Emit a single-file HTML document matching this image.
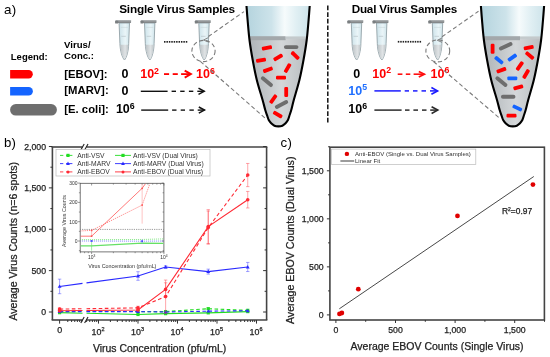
<!DOCTYPE html>
<html><head><meta charset="utf-8"><style>
html,body{margin:0;padding:0;background:#fff;}
svg{display:block;will-change:transform;}
text{font-family:"Liberation Sans",sans-serif;}
.hv{stroke:#222;stroke-width:0.25px;}
</style></head><body>
<svg width="550" height="357" viewBox="0 0 550 357">
<defs>
<linearGradient id="stb" x1="0" x2="1" y1="0" y2="0">
<stop offset="0" stop-color="#cde3ea"/><stop offset="0.6" stop-color="#eaf5f8"/><stop offset="1" stop-color="#d0e5eb"/></linearGradient>
<linearGradient id="slq" x1="0" x2="1" y1="0" y2="0">
<stop offset="0" stop-color="#bcc2c5"/><stop offset="0.6" stop-color="#dfe3e5"/><stop offset="1" stop-color="#c0c6c9"/></linearGradient>
<linearGradient id="btb" x1="0" x2="1" y1="0" y2="0">
<stop offset="0" stop-color="#b3d3dd"/><stop offset="0.4" stop-color="#cde3ea"/><stop offset="0.6" stop-color="#f6fbfc"/><stop offset="0.78" stop-color="#e0eff3"/><stop offset="1" stop-color="#cbe2e9"/></linearGradient>
<linearGradient id="blq" x1="0" x2="1" y1="0" y2="0">
<stop offset="0" stop-color="#a9afb3"/><stop offset="0.55" stop-color="#d4d7d9"/><stop offset="1" stop-color="#b4b9bc"/></linearGradient>
<linearGradient id="cap" x1="0" x2="0" y1="0" y2="1">
<stop offset="0" stop-color="#b8bcbe"/><stop offset="0.45" stop-color="#979b9d"/><stop offset="1" stop-color="#7e8284"/></linearGradient>
</defs>
<rect width="550" height="357" fill="#fff"/>
<text x="3.9" y="14.0" font-size="13.4" letter-spacing="0.5" font-family="Liberation Sans, sans-serif">a)</text>
<text x="119.2" y="13.2" font-size="11.8" letter-spacing="-0.2" font-weight="bold" font-family="Liberation Sans, sans-serif">Single Virus Samples</text>
<text x="351.7" y="13.0" font-size="11.7" letter-spacing="-0.2" font-weight="bold" font-family="Liberation Sans, sans-serif">Dual Virus Samples</text>
<text x="10.8" y="59.5" font-size="9.5" font-weight="bold" font-family="Liberation Sans, sans-serif">Legend:</text>
<text x="64.1" y="48.1" font-size="9.6" font-weight="bold" font-family="Liberation Sans, sans-serif">Virus/</text>
<text x="64.1" y="58.6" font-size="9.6" font-weight="bold" font-family="Liberation Sans, sans-serif">Conc.:</text>
<path d="M10.1 70.1 H28.6 A4.2 4.2 0 0 1 28.6 78.5 H10.1 Z" fill="#ff0000"/>
<path d="M10.1 86.9 H28.6 A4.25 4.25 0 0 1 28.6 95.4 H10.1 Z" fill="#1464ff"/>
<rect x="10.1" y="104.1" width="46.8" height="11.5" rx="5.75" fill="#6e6e6e"/>
<text x="64.3" y="77.7" font-size="11.3" font-weight="bold" font-family="Liberation Sans, sans-serif">[EBOV]:</text>
<text x="64.3" y="94.2" font-size="11.3" font-weight="bold" font-family="Liberation Sans, sans-serif">[MARV]:</text>
<text x="64.3" y="112.8" font-size="11.3" font-weight="bold" font-family="Liberation Sans, sans-serif">[E. coli]:</text>
<text x="121.6" y="78.1" font-size="12.5" fill="#000" font-weight="bold" font-family="Liberation Sans, sans-serif">0</text>
<text x="121.6" y="94.5" font-size="12.5" fill="#000" font-weight="bold" font-family="Liberation Sans, sans-serif">0</text>
<text x="115.9" y="113.4" font-size="12.5" fill="#000" font-weight="bold" font-family="Liberation Sans, sans-serif">10<tspan dy="-4.6" font-size="8.8">6</tspan></text>
<text x="140.2" y="78.1" font-size="12.5" fill="#ff0000" font-weight="bold" font-family="Liberation Sans, sans-serif">10<tspan dy="-4.6" font-size="8.8">2</tspan></text>
<line x1="164" y1="74.1" x2="169.1" y2="74.1" stroke="#ff0000" stroke-width="1.8"/><line x1="172.7" y1="74.1" x2="177.8" y2="74.1" stroke="#ff0000" stroke-width="1.8"/><line x1="181.1" y1="74.1" x2="190" y2="74.1" stroke="#ff0000" stroke-width="1.8"/><path d="M184.70 70.60 L190.90 74.1 L184.70 77.60" fill="none" stroke="#ff0000" stroke-width="1.9000000000000001" stroke-linejoin="miter" stroke-linecap="butt"/>
<text x="196.0" y="78.1" font-size="12.5" fill="#ff0000" font-weight="bold" font-family="Liberation Sans, sans-serif">10<tspan dy="-4.6" font-size="8.8">6</tspan></text>
<line x1="140.8" y1="91.3" x2="167.6" y2="91.3" stroke="#111" stroke-width="1.4"/><line x1="171.6" y1="91.3" x2="176" y2="91.3" stroke="#111" stroke-width="1.4"/><line x1="180.2" y1="91.3" x2="184.6" y2="91.3" stroke="#111" stroke-width="1.4"/><line x1="188.9" y1="91.3" x2="193.3" y2="91.3" stroke="#111" stroke-width="1.4"/><line x1="197.3" y1="91.3" x2="204.3" y2="91.3" stroke="#111" stroke-width="1.4"/><path d="M198.50 88.20 L204.20 91.3 L198.50 94.40" fill="none" stroke="#111" stroke-width="1.5" stroke-linejoin="miter" stroke-linecap="butt"/>
<line x1="141.2" y1="110.1" x2="168.2" y2="110.1" stroke="#111" stroke-width="1.4"/><line x1="172.1" y1="110.1" x2="176.5" y2="110.1" stroke="#111" stroke-width="1.4"/><line x1="180.7" y1="110.1" x2="185" y2="110.1" stroke="#111" stroke-width="1.4"/><line x1="189.4" y1="110.1" x2="193.8" y2="110.1" stroke="#111" stroke-width="1.4"/><line x1="197.7" y1="110.1" x2="204.6" y2="110.1" stroke="#111" stroke-width="1.4"/><path d="M198.80 107.00 L204.50 110.1 L198.80 113.20" fill="none" stroke="#111" stroke-width="1.5" stroke-linejoin="miter" stroke-linecap="butt"/>
<text x="353.2" y="77.9" font-size="12.5" fill="#000" font-weight="bold" font-family="Liberation Sans, sans-serif">0</text>
<text x="372.3" y="77.9" font-size="12.5" fill="#ff0000" font-weight="bold" font-family="Liberation Sans, sans-serif">10<tspan dy="-4.6" font-size="8.8">2</tspan></text>
<line x1="397.7" y1="74.2" x2="402.4" y2="74.2" stroke="#ff1010" stroke-width="1.6"/><line x1="405.8" y1="74.2" x2="410.3" y2="74.2" stroke="#ff1010" stroke-width="1.6"/><line x1="413.6" y1="74.2" x2="424.4" y2="74.2" stroke="#ff1010" stroke-width="1.6"/><path d="M418.80 71.40 L424.40 74.2 L418.80 77.00" fill="none" stroke="#ff1010" stroke-width="1.7000000000000002" stroke-linejoin="miter" stroke-linecap="butt"/>
<text x="430.5" y="77.9" font-size="12.5" fill="#ff0000" font-weight="bold" font-family="Liberation Sans, sans-serif">10<tspan dy="-4.6" font-size="8.8">6</tspan></text>
<text x="348.3" y="94.8" font-size="12.5" fill="#1f6fff" font-weight="bold" font-family="Liberation Sans, sans-serif">10<tspan dy="-4.6" font-size="8.8">5</tspan></text>
<line x1="374.4" y1="90.9" x2="400.8" y2="90.9" stroke="#1a1aff" stroke-width="1.5"/><line x1="404.7" y1="90.9" x2="409" y2="90.9" stroke="#1a1aff" stroke-width="1.5"/><line x1="413" y1="90.9" x2="417.5" y2="90.9" stroke="#1a1aff" stroke-width="1.5"/><line x1="421.5" y1="90.9" x2="426" y2="90.9" stroke="#1a1aff" stroke-width="1.5"/><line x1="430" y1="90.9" x2="437.5" y2="90.9" stroke="#1a1aff" stroke-width="1.5"/><path d="M431.40 87.50 L437.60 90.9 L431.40 94.30" fill="none" stroke="#1a1aff" stroke-width="1.6" stroke-linejoin="miter" stroke-linecap="butt"/>
<text x="348.3" y="113.4" font-size="12.5" fill="#000" font-weight="bold" font-family="Liberation Sans, sans-serif">10<tspan dy="-4.6" font-size="8.8">6</tspan></text>
<line x1="374.4" y1="110.1" x2="401.6" y2="110.1" stroke="#2a2a2a" stroke-width="1.5"/><line x1="405" y1="110.1" x2="409.5" y2="110.1" stroke="#2a2a2a" stroke-width="1.5"/><line x1="413.4" y1="110.1" x2="418" y2="110.1" stroke="#2a2a2a" stroke-width="1.5"/><line x1="422" y1="110.1" x2="426.5" y2="110.1" stroke="#2a2a2a" stroke-width="1.5"/><line x1="430.2" y1="110.1" x2="437.8" y2="110.1" stroke="#2a2a2a" stroke-width="1.5"/><path d="M431.60 106.70 L437.80 110.1 L431.60 113.50" fill="none" stroke="#2a2a2a" stroke-width="1.6" stroke-linejoin="miter" stroke-linecap="butt"/>
<line x1="327.8" y1="5.6" x2="327.8" y2="124" stroke="#111" stroke-width="1.5" stroke-dasharray="4.7 1.9"/>
<path d="M119.1 23 L119.89999999999999 43.5 C120.1 51 122.3 58 124.5 60 C126.5 58 128.6 51 128.7 43.5 L129.5 23 Z" fill="url(#stb)" stroke="#8d9ca2" stroke-width="0.85"/><path d="M120.2 44.8 C120.39999999999999 51 122.39999999999999 57.5 124.5 59.4 C126.39999999999999 57.5 128.3 51 128.4 44.8 Z" fill="url(#slq)"/><line x1="120.8" y1="27.4" x2="127.8" y2="27.4" stroke="#c4d0d4" stroke-width="0.5"/><line x1="121.3" y1="36.3" x2="125.8" y2="36.3" stroke="#b0bcc0" stroke-width="0.6"/><rect x="115.5" y="19.9" width="15.6" height="3" fill="url(#cap)" rx="0.6"/><rect x="115.1" y="20.8" width="3" height="2.6" fill="#7a7e80" rx="0.5"/>
<path d="M144.5 23 L145.29999999999998 43.5 C145.5 51 147.7 58 149.89999999999998 60 C151.89999999999998 58 154.0 51 154.1 43.5 L154.89999999999998 23 Z" fill="url(#stb)" stroke="#8d9ca2" stroke-width="0.85"/><path d="M145.6 44.8 C145.79999999999998 51 147.79999999999998 57.5 149.89999999999998 59.4 C151.79999999999998 57.5 153.7 51 153.79999999999998 44.8 Z" fill="url(#slq)"/><line x1="146.2" y1="27.4" x2="153.2" y2="27.4" stroke="#c4d0d4" stroke-width="0.5"/><line x1="146.7" y1="36.3" x2="151.2" y2="36.3" stroke="#b0bcc0" stroke-width="0.6"/><rect x="140.89999999999998" y="19.9" width="15.6" height="3" fill="url(#cap)" rx="0.6"/><rect x="140.5" y="20.8" width="3" height="2.6" fill="#7a7e80" rx="0.5"/>
<path d="M198.8 23 L199.6 43.5 C199.8 51 202.0 58 204.2 60 C206.2 58 208.3 51 208.4 43.5 L209.2 23 Z" fill="url(#stb)" stroke="#8d9ca2" stroke-width="0.85"/><path d="M199.9 44.8 C200.1 51 202.1 57.5 204.2 59.4 C206.1 57.5 208.0 51 208.1 44.8 Z" fill="url(#slq)"/><line x1="200.5" y1="27.4" x2="207.5" y2="27.4" stroke="#c4d0d4" stroke-width="0.5"/><line x1="201.0" y1="36.3" x2="205.5" y2="36.3" stroke="#b0bcc0" stroke-width="0.6"/><rect x="195.2" y="19.9" width="15.6" height="3" fill="url(#cap)" rx="0.6"/><rect x="194.8" y="20.8" width="3" height="2.6" fill="#7a7e80" rx="0.5"/>
<path d="M351.3 23 L352.1 43.5 C352.3 51 354.5 58 356.7 60 C358.7 58 360.8 51 360.9 43.5 L361.7 23 Z" fill="url(#stb)" stroke="#8d9ca2" stroke-width="0.85"/><path d="M352.4 44.8 C352.6 51 354.6 57.5 356.7 59.4 C358.6 57.5 360.5 51 360.6 44.8 Z" fill="url(#slq)"/><line x1="353.0" y1="27.4" x2="360.0" y2="27.4" stroke="#c4d0d4" stroke-width="0.5"/><line x1="353.5" y1="36.3" x2="358.0" y2="36.3" stroke="#b0bcc0" stroke-width="0.6"/><rect x="347.7" y="19.9" width="15.6" height="3" fill="url(#cap)" rx="0.6"/><rect x="347.3" y="20.8" width="3" height="2.6" fill="#7a7e80" rx="0.5"/>
<path d="M376.5 23 L377.3 43.5 C377.5 51 379.7 58 381.9 60 C383.9 58 386.0 51 386.09999999999997 43.5 L386.9 23 Z" fill="url(#stb)" stroke="#8d9ca2" stroke-width="0.85"/><path d="M377.59999999999997 44.8 C377.8 51 379.8 57.5 381.9 59.4 C383.8 57.5 385.7 51 385.8 44.8 Z" fill="url(#slq)"/><line x1="378.2" y1="27.4" x2="385.2" y2="27.4" stroke="#c4d0d4" stroke-width="0.5"/><line x1="378.7" y1="36.3" x2="383.2" y2="36.3" stroke="#b0bcc0" stroke-width="0.6"/><rect x="372.9" y="19.9" width="15.6" height="3" fill="url(#cap)" rx="0.6"/><rect x="372.5" y="20.8" width="3" height="2.6" fill="#7a7e80" rx="0.5"/>
<path d="M432.3 23 L433.1 43.5 C433.3 51 435.5 58 437.7 60 C439.7 58 441.8 51 441.9 43.5 L442.7 23 Z" fill="url(#stb)" stroke="#8d9ca2" stroke-width="0.85"/><path d="M433.4 44.8 C433.6 51 435.6 57.5 437.7 59.4 C439.6 57.5 441.5 51 441.6 44.8 Z" fill="url(#slq)"/><line x1="434.0" y1="27.4" x2="441.0" y2="27.4" stroke="#c4d0d4" stroke-width="0.5"/><line x1="434.5" y1="36.3" x2="439.0" y2="36.3" stroke="#b0bcc0" stroke-width="0.6"/><rect x="428.7" y="19.9" width="15.6" height="3" fill="url(#cap)" rx="0.6"/><rect x="428.3" y="20.8" width="3" height="2.6" fill="#7a7e80" rx="0.5"/>
<rect x="164.00" y="41.0" width="1.5" height="1.7" fill="#222"/><rect x="166.42" y="41.0" width="1.5" height="1.7" fill="#222"/><rect x="168.84" y="41.0" width="1.5" height="1.7" fill="#222"/><rect x="171.26" y="41.0" width="1.5" height="1.7" fill="#222"/><rect x="173.68" y="41.0" width="1.5" height="1.7" fill="#222"/><rect x="176.10" y="41.0" width="1.5" height="1.7" fill="#222"/><rect x="178.52" y="41.0" width="1.5" height="1.7" fill="#222"/><rect x="180.94" y="41.0" width="1.5" height="1.7" fill="#222"/><rect x="183.36" y="41.0" width="1.5" height="1.7" fill="#222"/><rect x="185.78" y="41.0" width="1.5" height="1.7" fill="#222"/>
<rect x="397.80" y="40.9" width="1.5" height="1.7" fill="#222"/><rect x="400.22" y="40.9" width="1.5" height="1.7" fill="#222"/><rect x="402.64" y="40.9" width="1.5" height="1.7" fill="#222"/><rect x="405.06" y="40.9" width="1.5" height="1.7" fill="#222"/><rect x="407.48" y="40.9" width="1.5" height="1.7" fill="#222"/><rect x="409.90" y="40.9" width="1.5" height="1.7" fill="#222"/><rect x="412.32" y="40.9" width="1.5" height="1.7" fill="#222"/><rect x="414.74" y="40.9" width="1.5" height="1.7" fill="#222"/><rect x="417.16" y="40.9" width="1.5" height="1.7" fill="#222"/><rect x="419.58" y="40.9" width="1.5" height="1.7" fill="#222"/>
<ellipse cx="203.5" cy="51" rx="11.6" ry="10.6" stroke="#7a7a7a" stroke-width="1.1" fill="none" stroke-dasharray="4.2 2.6"/>
<ellipse cx="437.8" cy="50.9" rx="11.9" ry="11" stroke="#7a7a7a" stroke-width="1.1" fill="none" stroke-dasharray="4.2 2.6"/>
<path d="M208.4 37.6 L203.6 40 L208.4 42" stroke="#7a7a7a" stroke-width="0.9" fill="none"/>
<path d="M442 37.9 L437.3 40.3 L442 42.3" stroke="#7a7a7a" stroke-width="0.9" fill="none"/>
<line x1="208.4" y1="36.5" x2="244" y2="11.6" stroke="#7a7a7a" stroke-width="1.1" fill="none" stroke-dasharray="4.2 2.6"/>
<line x1="200.3" y1="61.3" x2="265" y2="118" stroke="#7a7a7a" stroke-width="1.1" fill="none" stroke-dasharray="4.2 2.6"/>
<line x1="442" y1="36.8" x2="478.5" y2="11.2" stroke="#7a7a7a" stroke-width="1.1" fill="none" stroke-dasharray="4.2 2.6"/>
<line x1="433.5" y1="61.5" x2="498.8" y2="117.5" stroke="#7a7a7a" stroke-width="1.1" fill="none" stroke-dasharray="4.2 2.6"/>
<clipPath id="clip278"><path d="M246.50 6.00 C246.68 8.33 247.10 14.33 247.60 20.00 C248.10 25.67 248.65 33.33 249.50 40.00 C250.35 46.67 251.48 53.33 252.70 60.00 C253.92 66.67 255.16 73.33 256.81 80.00 C258.46 86.67 261.18 95.00 262.59 100.00 C264.00 105.00 264.47 107.33 265.26 110.00 C266.04 112.67 266.73 114.33 267.31 116.00 C267.89 117.67 268.10 118.78 268.75 120.00 C269.39 121.22 270.24 122.35 271.18 123.30 C272.12 124.25 273.20 125.18 274.40 125.70 C275.61 126.22 277.08 126.40 278.41 126.40 C279.75 126.40 281.21 126.22 282.40 125.70 C283.60 125.18 284.66 124.25 285.58 123.30 C286.50 122.35 287.32 121.22 287.95 120.00 C288.57 118.78 288.76 117.67 289.31 116.00 C289.86 114.33 290.51 112.67 291.26 110.00 C292.00 107.33 292.43 105.00 293.79 100.00 C295.15 95.00 297.79 86.67 299.41 80.00 C301.03 73.33 302.28 66.67 303.50 60.00 C304.72 53.33 305.85 46.67 306.70 40.00 C307.55 33.33 308.10 25.67 308.60 20.00 C309.10 14.33 309.52 8.33 309.70 6.00 Z"/></clipPath><g clip-path="url(#clip278)"><rect x="245.10000000000002" y="5" width="66" height="33" fill="url(#btb)"/><rect x="245.10000000000002" y="37" width="66" height="92" fill="url(#blq)"/><rect x="245.10000000000002" y="36.2" width="40.5" height="4" fill="#a3a8ab"/><rect x="285.6" y="36.4" width="26" height="2.4" fill="#c4cacc"/><rect x="261.80" y="46.00" width="10.2" height="3.8" rx="1.2" fill="#ff0000" transform="rotate(-10 266.9 47.9)"/><rect x="273.10" y="55.50" width="10" height="3.8" rx="1.2" fill="#ff0000" transform="rotate(-30 278.1 57.4)"/><rect x="290.20" y="53.60" width="10" height="3.8" rx="1.2" fill="#ff0000" transform="rotate(45 295.2 55.5)"/><rect x="256.00" y="58.30" width="10" height="3.8" rx="1.2" fill="#ff0000" transform="rotate(-10 261 60.2)"/><rect x="262.90" y="67.90" width="10" height="3.8" rx="1.2" fill="#ff0000" transform="rotate(-20 267.9 69.8)"/><rect x="282.60" y="66.20" width="10" height="3.8" rx="1.2" fill="#ff0000" transform="rotate(-60 287.6 68.1)"/><rect x="276.00" y="75.70" width="10" height="3.8" rx="1.2" fill="#ff0000" transform="rotate(0 281 77.6)"/><rect x="281.20" y="90.00" width="10" height="3.8" rx="1.2" fill="#ff0000" transform="rotate(90 286.2 91.9)"/><rect x="268.30" y="97.20" width="10" height="3.8" rx="1.2" fill="#ff0000" transform="rotate(-55 273.3 99.1)"/><rect x="272.70" y="112.70" width="10" height="3.8" rx="1.2" fill="#ff0000" transform="rotate(30 277.7 114.6)"/><rect x="283.95" y="45.15" width="14.5" height="3.9" rx="1.95" fill="#6e6e6e" transform="rotate(0 291.2 47.1)"/><rect x="259.65" y="79.75" width="14.5" height="3.9" rx="1.95" fill="#6e6e6e" transform="rotate(40 266.9 81.7)"/><rect x="274.25" y="102.55" width="14.5" height="3.9" rx="1.95" fill="#6e6e6e" transform="rotate(-27 281.5 104.5)"/></g><path d="M246.50 6.00 C246.68 8.33 247.10 14.33 247.60 20.00 C248.10 25.67 248.65 33.33 249.50 40.00 C250.35 46.67 251.48 53.33 252.70 60.00 C253.92 66.67 255.16 73.33 256.81 80.00 C258.46 86.67 261.18 95.00 262.59 100.00 C264.00 105.00 264.47 107.33 265.26 110.00 C266.04 112.67 266.73 114.33 267.31 116.00 C267.89 117.67 268.10 118.78 268.75 120.00 C269.39 121.22 270.24 122.35 271.18 123.30 C272.12 124.25 273.20 125.18 274.40 125.70 C275.61 126.22 277.08 126.40 278.41 126.40 C279.75 126.40 281.21 126.22 282.40 125.70 C283.60 125.18 284.66 124.25 285.58 123.30 C286.50 122.35 287.32 121.22 287.95 120.00 C288.57 118.78 288.76 117.67 289.31 116.00 C289.86 114.33 290.51 112.67 291.26 110.00 C292.00 107.33 292.43 105.00 293.79 100.00 C295.15 95.00 297.79 86.67 299.41 80.00 C301.03 73.33 302.28 66.67 303.50 60.00 C304.72 53.33 305.85 46.67 306.70 40.00 C307.55 33.33 308.10 25.67 308.60 20.00 C309.10 14.33 309.52 8.33 309.70 6.00" fill="none" stroke="#000" stroke-width="2.1"/>
<clipPath id="clip512"><path d="M480.90 6.00 C481.08 8.33 481.50 14.33 482.00 20.00 C482.50 25.67 483.05 33.33 483.90 40.00 C484.75 46.67 485.88 53.33 487.10 60.00 C488.32 66.67 489.56 73.33 491.21 80.00 C492.86 86.67 495.58 95.00 496.99 100.00 C498.40 105.00 498.87 107.33 499.66 110.00 C500.44 112.67 501.13 114.33 501.71 116.00 C502.29 117.67 502.50 118.78 503.15 120.00 C503.79 121.22 504.64 122.35 505.58 123.30 C506.52 124.25 507.60 125.18 508.80 125.70 C510.01 126.22 511.48 126.40 512.81 126.40 C514.15 126.40 515.61 126.22 516.80 125.70 C518.00 125.18 519.06 124.25 519.98 123.30 C520.90 122.35 521.72 121.22 522.35 120.00 C522.97 118.78 523.16 117.67 523.71 116.00 C524.26 114.33 524.91 112.67 525.66 110.00 C526.40 107.33 526.83 105.00 528.19 100.00 C529.55 95.00 532.19 86.67 533.81 80.00 C535.43 73.33 536.68 66.67 537.90 60.00 C539.12 53.33 540.25 46.67 541.10 40.00 C541.95 33.33 542.50 25.67 543.00 20.00 C543.50 14.33 543.92 8.33 544.10 6.00 Z"/></clipPath><g clip-path="url(#clip512)"><rect x="479.5" y="5" width="66" height="33" fill="url(#btb)"/><rect x="479.5" y="37" width="66" height="92" fill="url(#blq)"/><rect x="479.5" y="36.2" width="40.5" height="4" fill="#a3a8ab"/><rect x="520.0" y="36.4" width="26" height="2.4" fill="#c4cacc"/><rect x="487.60" y="46.90" width="10" height="3.8" rx="1.2" fill="#ff0000" transform="rotate(90 492.6 48.8)"/><rect x="523.70" y="45.70" width="10" height="3.8" rx="1.2" fill="#ff0000" transform="rotate(-10 528.7 47.6)"/><rect x="524.70" y="53.70" width="10" height="3.8" rx="1.2" fill="#ff0000" transform="rotate(40 529.7 55.6)"/><rect x="514.80" y="64.10" width="10" height="3.8" rx="1.2" fill="#ff0000" transform="rotate(-55 519.8 66)"/><rect x="496.40" y="68.30" width="10" height="3.8" rx="1.2" fill="#ff0000" transform="rotate(-20 501.4 70.2)"/><rect x="521.10" y="72.10" width="10" height="3.8" rx="1.2" fill="#ff0000" transform="rotate(-60 526.1 74)"/><rect x="513.30" y="85.50" width="10" height="3.8" rx="1.2" fill="#ff0000" transform="rotate(-15 518.3 87.4)"/><rect x="506.50" y="113.70" width="10" height="3.8" rx="1.2" fill="#ff0000" transform="rotate(0 511.5 115.6)"/><rect x="493.90" y="58.30" width="10" height="3.8" rx="1.2" fill="#1464ff" transform="rotate(40 498.9 60.2)"/><rect x="507.30" y="55.70" width="10" height="3.8" rx="1.2" fill="#1464ff" transform="rotate(-35 512.3 57.6)"/><rect x="507.30" y="76.40" width="10" height="3.8" rx="1.2" fill="#1464ff" transform="rotate(0 512.3 78.3)"/><rect x="512.30" y="106.10" width="10" height="3.8" rx="1.2" fill="#1464ff" transform="rotate(25 517.3 108)"/><rect x="498.45" y="44.35" width="14.5" height="3.9" rx="1.95" fill="#6e6e6e" transform="rotate(-25 505.7 46.3)"/><rect x="494.15" y="79.65" width="14.5" height="3.9" rx="1.95" fill="#6e6e6e" transform="rotate(40 501.4 81.6)"/><rect x="500.95" y="94.75" width="14.5" height="3.9" rx="1.95" fill="#6e6e6e" transform="rotate(0 508.2 96.7)"/></g><path d="M480.90 6.00 C481.08 8.33 481.50 14.33 482.00 20.00 C482.50 25.67 483.05 33.33 483.90 40.00 C484.75 46.67 485.88 53.33 487.10 60.00 C488.32 66.67 489.56 73.33 491.21 80.00 C492.86 86.67 495.58 95.00 496.99 100.00 C498.40 105.00 498.87 107.33 499.66 110.00 C500.44 112.67 501.13 114.33 501.71 116.00 C502.29 117.67 502.50 118.78 503.15 120.00 C503.79 121.22 504.64 122.35 505.58 123.30 C506.52 124.25 507.60 125.18 508.80 125.70 C510.01 126.22 511.48 126.40 512.81 126.40 C514.15 126.40 515.61 126.22 516.80 125.70 C518.00 125.18 519.06 124.25 519.98 123.30 C520.90 122.35 521.72 121.22 522.35 120.00 C522.97 118.78 523.16 117.67 523.71 116.00 C524.26 114.33 524.91 112.67 525.66 110.00 C526.40 107.33 526.83 105.00 528.19 100.00 C529.55 95.00 532.19 86.67 533.81 80.00 C535.43 73.33 536.68 66.67 537.90 60.00 C539.12 53.33 540.25 46.67 541.10 40.00 C541.95 33.33 542.50 25.67 543.00 20.00 C543.50 14.33 543.92 8.33 544.10 6.00" fill="none" stroke="#000" stroke-width="2.1"/>
<text x="3.9" y="146.6" font-size="13.2" letter-spacing="0.4" font-family="Liberation Sans, sans-serif">b)</text>
<line x1="52.4" y1="147" x2="52.4" y2="320" stroke="#444" stroke-width="1.6" fill="none"/>
<line x1="266.6" y1="147" x2="266.6" y2="320" stroke="#444" stroke-width="1.6" fill="none"/>
<line x1="51.65" y1="147" x2="82.5" y2="147" stroke="#444" stroke-width="1.6" fill="none"/>
<line x1="86.5" y1="147" x2="267.35" y2="147" stroke="#444" stroke-width="1.6" fill="none"/>
<line x1="51.65" y1="320" x2="82.5" y2="320" stroke="#444" stroke-width="1.6" fill="none"/>
<line x1="86.5" y1="320" x2="267.35" y2="320" stroke="#444" stroke-width="1.6" fill="none"/>
<line x1="80.8" y1="150" x2="84.2" y2="144" stroke="#222" stroke-width="1.1"/>
<line x1="84.6" y1="150" x2="88" y2="144" stroke="#222" stroke-width="1.1"/>
<line x1="80.8" y1="323" x2="84.2" y2="317" stroke="#222" stroke-width="1.1"/>
<line x1="84.6" y1="323" x2="88" y2="317" stroke="#222" stroke-width="1.1"/>
<line x1="48.9" y1="312.00" x2="52.4" y2="312.00" stroke="#333" stroke-width="1"/>
<line x1="266.6" y1="312.00" x2="263.1" y2="312.00" stroke="#333" stroke-width="1"/>
<text x="46" y="315.10" font-size="8.7" class="hv" text-anchor="end" fill="#222" font-family="Liberation Sans, sans-serif">0</text>
<line x1="50.4" y1="291.31" x2="52.4" y2="291.31" stroke="#333" stroke-width="1"/>
<line x1="266.6" y1="291.31" x2="264.6" y2="291.31" stroke="#333" stroke-width="1"/>
<line x1="48.9" y1="270.62" x2="52.4" y2="270.62" stroke="#333" stroke-width="1"/>
<line x1="266.6" y1="270.62" x2="263.1" y2="270.62" stroke="#333" stroke-width="1"/>
<text x="46" y="273.73" font-size="8.7" class="hv" text-anchor="end" fill="#222" font-family="Liberation Sans, sans-serif">500</text>
<line x1="50.4" y1="249.94" x2="52.4" y2="249.94" stroke="#333" stroke-width="1"/>
<line x1="266.6" y1="249.94" x2="264.6" y2="249.94" stroke="#333" stroke-width="1"/>
<line x1="48.9" y1="229.25" x2="52.4" y2="229.25" stroke="#333" stroke-width="1"/>
<line x1="266.6" y1="229.25" x2="263.1" y2="229.25" stroke="#333" stroke-width="1"/>
<text x="46" y="232.35" font-size="8.7" class="hv" text-anchor="end" fill="#222" font-family="Liberation Sans, sans-serif">1,000</text>
<line x1="50.4" y1="208.56" x2="52.4" y2="208.56" stroke="#333" stroke-width="1"/>
<line x1="266.6" y1="208.56" x2="264.6" y2="208.56" stroke="#333" stroke-width="1"/>
<line x1="48.9" y1="187.88" x2="52.4" y2="187.88" stroke="#333" stroke-width="1"/>
<line x1="266.6" y1="187.88" x2="263.1" y2="187.88" stroke="#333" stroke-width="1"/>
<text x="46" y="190.97" font-size="8.7" class="hv" text-anchor="end" fill="#222" font-family="Liberation Sans, sans-serif">1,500</text>
<line x1="50.4" y1="167.19" x2="52.4" y2="167.19" stroke="#333" stroke-width="1"/>
<line x1="266.6" y1="167.19" x2="264.6" y2="167.19" stroke="#333" stroke-width="1"/>
<line x1="48.9" y1="146.50" x2="52.4" y2="146.50" stroke="#333" stroke-width="1"/>
<line x1="266.6" y1="146.50" x2="263.1" y2="146.50" stroke="#333" stroke-width="1"/>
<text x="46" y="149.60" font-size="8.7" class="hv" text-anchor="end" fill="#222" font-family="Liberation Sans, sans-serif">2,000</text>
<line x1="59.60" y1="320" x2="59.60" y2="323.6" stroke="#333" stroke-width="1"/>
<line x1="67.78" y1="320" x2="67.78" y2="322" stroke="#333" stroke-width="1"/>
<line x1="71.61" y1="320" x2="71.61" y2="322" stroke="#333" stroke-width="1"/>
<line x1="74.74" y1="320" x2="74.74" y2="322" stroke="#333" stroke-width="1"/>
<line x1="77.38" y1="320" x2="77.38" y2="322" stroke="#333" stroke-width="1"/>
<line x1="79.67" y1="320" x2="79.67" y2="322" stroke="#333" stroke-width="1"/>
<line x1="81.69" y1="320" x2="81.69" y2="322" stroke="#333" stroke-width="1"/>
<line x1="86.61" y1="320" x2="86.61" y2="322" stroke="#333" stroke-width="1"/>
<line x1="89.74" y1="320" x2="89.74" y2="322" stroke="#333" stroke-width="1"/>
<line x1="92.38" y1="320" x2="92.38" y2="322" stroke="#333" stroke-width="1"/>
<line x1="94.67" y1="320" x2="94.67" y2="322" stroke="#333" stroke-width="1"/>
<line x1="96.69" y1="320" x2="96.69" y2="322" stroke="#333" stroke-width="1"/>
<line x1="110.39" y1="320" x2="110.39" y2="322" stroke="#333" stroke-width="1"/>
<line x1="117.35" y1="320" x2="117.35" y2="322" stroke="#333" stroke-width="1"/>
<line x1="122.28" y1="320" x2="122.28" y2="322" stroke="#333" stroke-width="1"/>
<line x1="126.11" y1="320" x2="126.11" y2="322" stroke="#333" stroke-width="1"/>
<line x1="129.24" y1="320" x2="129.24" y2="322" stroke="#333" stroke-width="1"/>
<line x1="131.88" y1="320" x2="131.88" y2="322" stroke="#333" stroke-width="1"/>
<line x1="134.17" y1="320" x2="134.17" y2="322" stroke="#333" stroke-width="1"/>
<line x1="136.19" y1="320" x2="136.19" y2="322" stroke="#333" stroke-width="1"/>
<line x1="149.89" y1="320" x2="149.89" y2="322" stroke="#333" stroke-width="1"/>
<line x1="156.85" y1="320" x2="156.85" y2="322" stroke="#333" stroke-width="1"/>
<line x1="161.78" y1="320" x2="161.78" y2="322" stroke="#333" stroke-width="1"/>
<line x1="165.61" y1="320" x2="165.61" y2="322" stroke="#333" stroke-width="1"/>
<line x1="168.74" y1="320" x2="168.74" y2="322" stroke="#333" stroke-width="1"/>
<line x1="171.38" y1="320" x2="171.38" y2="322" stroke="#333" stroke-width="1"/>
<line x1="173.67" y1="320" x2="173.67" y2="322" stroke="#333" stroke-width="1"/>
<line x1="175.69" y1="320" x2="175.69" y2="322" stroke="#333" stroke-width="1"/>
<line x1="189.39" y1="320" x2="189.39" y2="322" stroke="#333" stroke-width="1"/>
<line x1="196.35" y1="320" x2="196.35" y2="322" stroke="#333" stroke-width="1"/>
<line x1="201.28" y1="320" x2="201.28" y2="322" stroke="#333" stroke-width="1"/>
<line x1="205.11" y1="320" x2="205.11" y2="322" stroke="#333" stroke-width="1"/>
<line x1="208.24" y1="320" x2="208.24" y2="322" stroke="#333" stroke-width="1"/>
<line x1="210.88" y1="320" x2="210.88" y2="322" stroke="#333" stroke-width="1"/>
<line x1="213.17" y1="320" x2="213.17" y2="322" stroke="#333" stroke-width="1"/>
<line x1="215.19" y1="320" x2="215.19" y2="322" stroke="#333" stroke-width="1"/>
<line x1="228.89" y1="320" x2="228.89" y2="322" stroke="#333" stroke-width="1"/>
<line x1="235.85" y1="320" x2="235.85" y2="322" stroke="#333" stroke-width="1"/>
<line x1="240.78" y1="320" x2="240.78" y2="322" stroke="#333" stroke-width="1"/>
<line x1="244.61" y1="320" x2="244.61" y2="322" stroke="#333" stroke-width="1"/>
<line x1="247.74" y1="320" x2="247.74" y2="322" stroke="#333" stroke-width="1"/>
<line x1="250.38" y1="320" x2="250.38" y2="322" stroke="#333" stroke-width="1"/>
<line x1="252.67" y1="320" x2="252.67" y2="322" stroke="#333" stroke-width="1"/>
<line x1="254.69" y1="320" x2="254.69" y2="322" stroke="#333" stroke-width="1"/>
<line x1="98.50" y1="320" x2="98.50" y2="323.6" stroke="#333" stroke-width="1"/>
<line x1="138.00" y1="320" x2="138.00" y2="323.6" stroke="#333" stroke-width="1"/>
<line x1="177.50" y1="320" x2="177.50" y2="323.6" stroke="#333" stroke-width="1"/>
<line x1="217.00" y1="320" x2="217.00" y2="323.6" stroke="#333" stroke-width="1"/>
<line x1="256.50" y1="320" x2="256.50" y2="323.6" stroke="#333" stroke-width="1"/>
<text x="59.6" y="333.3" font-size="8.9" class="hv" text-anchor="middle" fill="#222" font-family="Liberation Sans, sans-serif">0</text>
<text x="98.00" y="334.5" font-size="8.9" class="hv" text-anchor="middle" fill="#222" font-family="Liberation Sans, sans-serif">10<tspan dy="-4" font-size="5.5">2</tspan></text>
<text x="137.50" y="334.5" font-size="8.9" class="hv" text-anchor="middle" fill="#222" font-family="Liberation Sans, sans-serif">10<tspan dy="-4" font-size="5.5">3</tspan></text>
<text x="177.00" y="334.5" font-size="8.9" class="hv" text-anchor="middle" fill="#222" font-family="Liberation Sans, sans-serif">10<tspan dy="-4" font-size="5.5">4</tspan></text>
<text x="216.50" y="334.5" font-size="8.9" class="hv" text-anchor="middle" fill="#222" font-family="Liberation Sans, sans-serif">10<tspan dy="-4" font-size="5.5">5</tspan></text>
<text x="256.00" y="334.5" font-size="8.9" class="hv" text-anchor="middle" fill="#222" font-family="Liberation Sans, sans-serif">10<tspan dy="-4" font-size="5.5">6</tspan></text>
<text x="159.6" y="351.9" font-size="10.45" class="hv" text-anchor="middle" fill="#222" font-family="Liberation Sans, sans-serif">Virus Concentration (pfu/mL)</text>
<text transform="translate(17.1 241.25) rotate(-90)" font-size="10.58" class="hv" text-anchor="middle" fill="#222" font-family="Liberation Sans, sans-serif">Average Virus Counts (n=6 spots)</text>
<clipPath id="plotb"><rect x="53" y="147.8" width="213" height="171.5"/></clipPath>
<g clip-path="url(#plotb)">
<polyline points="59.60,311.17 82.5,311.29" fill="none" stroke="#22dd22" stroke-width="1.1" stroke-dasharray="3.6 2.5"/>
<polyline points="86.5,311.31 138.00,311.59 165.61,311.59 208.24,308.69 247.74,310.35" fill="none" stroke="#22dd22" stroke-width="1.1" stroke-dasharray="3.6 2.5"/>
<rect x="58.00" y="309.57" width="3.2" height="3.2" fill="#22dd22"/>
<rect x="136.40" y="309.99" width="3.2" height="3.2" fill="#22dd22"/>
<rect x="164.01" y="309.99" width="3.2" height="3.2" fill="#22dd22"/>
<path d="M208.24 308.03 V309.35 M206.54 308.03 H209.94 M206.54 309.35 H209.94" stroke="#22dd22" stroke-width="0.6" fill="none" opacity="0.7"/>
<rect x="206.64" y="307.09" width="3.2" height="3.2" fill="#22dd22"/>
<rect x="246.14" y="308.75" width="3.2" height="3.2" fill="#22dd22"/>
<polyline points="59.60,312.66 82.5,313.19" fill="none" stroke="#22dd22" stroke-width="1.1"/>
<polyline points="86.5,313.29 138.00,314.48 165.61,313.65 208.24,312.83 247.74,311.59" fill="none" stroke="#22dd22" stroke-width="1.1"/>
<rect x="58.00" y="311.06" width="3.2" height="3.2" fill="#22dd22"/>
<rect x="136.40" y="312.88" width="3.2" height="3.2" fill="#22dd22"/>
<rect x="164.01" y="312.05" width="3.2" height="3.2" fill="#22dd22"/>
<rect x="206.64" y="311.23" width="3.2" height="3.2" fill="#22dd22"/>
<rect x="246.14" y="309.99" width="3.2" height="3.2" fill="#22dd22"/>
<polyline points="59.60,311.59 82.5,311.59" fill="none" stroke="#2a2aff" stroke-width="1.1" stroke-dasharray="3.6 2.5"/>
<polyline points="86.5,311.59 138.00,311.59 165.61,312.00 208.24,311.17 247.74,310.76" fill="none" stroke="#2a2aff" stroke-width="1.1" stroke-dasharray="3.6 2.5"/>
<path d="M59.60 309.59 L61.50 312.99 L57.70 312.99 Z" fill="#2a2aff"/>
<path d="M138.00 309.59 L139.90 312.99 L136.10 312.99 Z" fill="#2a2aff"/>
<path d="M165.61 310.00 L167.51 313.40 L163.71 313.40 Z" fill="#2a2aff"/>
<path d="M208.24 309.17 L210.14 312.57 L206.34 312.57 Z" fill="#2a2aff"/>
<path d="M247.74 308.76 L249.64 312.16 L245.84 312.16 Z" fill="#2a2aff"/>
<polyline points="59.60,286.43 82.5,283.38" fill="none" stroke="#2a2aff" stroke-width="1.1"/>
<polyline points="86.5,282.85 138.00,276.00 165.61,266.98 208.24,271.62 247.74,266.98" fill="none" stroke="#2a2aff" stroke-width="1.1"/>
<path d="M59.60 279.15 V293.71 M57.90 279.15 H61.30 M57.90 293.71 H61.30" stroke="#2a2aff" stroke-width="0.6" fill="none" opacity="0.7"/>
<path d="M59.60 284.43 L61.50 287.83 L57.70 287.83 Z" fill="#2a2aff"/>
<path d="M138.00 271.70 V280.31 M136.30 271.70 H139.70 M136.30 280.31 H139.70" stroke="#2a2aff" stroke-width="0.6" fill="none" opacity="0.7"/>
<path d="M138.00 274.00 L139.90 277.40 L136.10 277.40 Z" fill="#2a2aff"/>
<path d="M165.61 265.74 V268.23 M163.91 265.74 H167.31 M163.91 268.23 H167.31" stroke="#2a2aff" stroke-width="0.6" fill="none" opacity="0.7"/>
<path d="M165.61 264.98 L167.51 268.38 L163.71 268.38 Z" fill="#2a2aff"/>
<path d="M208.24 269.14 V274.10 M206.54 269.14 H209.94 M206.54 274.10 H209.94" stroke="#2a2aff" stroke-width="0.6" fill="none" opacity="0.7"/>
<path d="M208.24 269.62 L210.14 273.02 L206.34 273.02 Z" fill="#2a2aff"/>
<path d="M247.74 262.43 V271.54 M246.04 262.43 H249.44 M246.04 271.54 H249.44" stroke="#2a2aff" stroke-width="0.6" fill="none" opacity="0.7"/>
<path d="M247.74 264.98 L249.64 268.38 L245.84 268.38 Z" fill="#2a2aff"/>
<polyline points="59.60,309.10 82.5,308.74" fill="none" stroke="#ff2a35" stroke-width="1.1" stroke-dasharray="3.6 2.5"/>
<polyline points="86.5,308.68 138.00,307.86 165.61,296.61 208.24,227.59 247.74,175.05" fill="none" stroke="#ff2a35" stroke-width="1.1" stroke-dasharray="3.6 2.5"/>
<path d="M59.60 307.86 V310.34 M57.90 307.86 H61.30 M57.90 310.34 H61.30" stroke="#ff2a35" stroke-width="0.6" fill="none" opacity="0.7"/>
<circle cx="59.60" cy="309.10" r="1.8" fill="#ff2a35"/>
<path d="M138.00 306.21 V309.52 M136.30 306.21 H139.70 M136.30 309.52 H139.70" stroke="#ff2a35" stroke-width="0.6" fill="none" opacity="0.7"/>
<circle cx="138.00" cy="307.86" r="1.8" fill="#ff2a35"/>
<path d="M165.61 280.06 V313.16 M163.91 280.06 H167.31 M163.91 313.16 H167.31" stroke="#ff2a35" stroke-width="0.6" fill="none" opacity="0.7"/>
<circle cx="165.61" cy="296.61" r="1.8" fill="#ff2a35"/>
<path d="M208.24 211.04 V244.15 M206.54 211.04 H209.94 M206.54 244.15 H209.94" stroke="#ff2a35" stroke-width="0.6" fill="none" opacity="0.7"/>
<circle cx="208.24" cy="227.59" r="1.8" fill="#ff2a35"/>
<path d="M247.74 163.46 V186.63 M246.04 163.46 H249.44 M246.04 186.63 H249.44" stroke="#ff2a35" stroke-width="0.6" fill="none" opacity="0.7"/>
<circle cx="247.74" cy="175.05" r="1.8" fill="#ff2a35"/>
<polyline points="59.60,310.76 82.5,310.52" fill="none" stroke="#ff2a35" stroke-width="1.1"/>
<polyline points="86.5,310.47 138.00,309.93 165.61,289.41 208.24,226.60 247.74,199.71" fill="none" stroke="#ff2a35" stroke-width="1.1"/>
<path d="M59.60 309.93 V311.59 M57.90 309.93 H61.30 M57.90 311.59 H61.30" stroke="#ff2a35" stroke-width="0.6" fill="none" opacity="0.7"/>
<circle cx="59.60" cy="310.76" r="1.8" fill="#ff2a35"/>
<path d="M138.00 309.10 V310.76 M136.30 309.10 H139.70 M136.30 310.76 H139.70" stroke="#ff2a35" stroke-width="0.6" fill="none" opacity="0.7"/>
<circle cx="138.00" cy="309.93" r="1.8" fill="#ff2a35"/>
<path d="M165.61 282.79 V296.03 M163.91 282.79 H167.31 M163.91 296.03 H167.31" stroke="#ff2a35" stroke-width="0.6" fill="none" opacity="0.7"/>
<circle cx="165.61" cy="289.41" r="1.8" fill="#ff2a35"/>
<path d="M208.24 209.64 V243.57 M206.54 209.64 H209.94 M206.54 243.57 H209.94" stroke="#ff2a35" stroke-width="0.6" fill="none" opacity="0.7"/>
<circle cx="208.24" cy="226.60" r="1.8" fill="#ff2a35"/>
<path d="M247.74 191.43 V207.98 M246.04 191.43 H249.44 M246.04 207.98 H249.44" stroke="#ff2a35" stroke-width="0.6" fill="none" opacity="0.7"/>
<circle cx="247.74" cy="199.71" r="1.8" fill="#ff2a35"/>
</g>
<rect x="56" y="149.5" width="154" height="26.5" fill="#fff" stroke="#bbb" stroke-width="0.7"/>
<line x1="60" y1="155.4" x2="63.3" y2="155.4" stroke="#22dd22" stroke-width="0.9"/>
<line x1="66" y1="155.4" x2="72.4" y2="155.4" stroke="#22dd22" stroke-width="0.9"/>
<rect x="66.40" y="153.80" width="3.2" height="3.2" fill="#22dd22"/>
<text x="77.2" y="157.70000000000002" font-size="6.75" fill="#333" font-family="Liberation Sans, sans-serif">Anti-VSV</text>
<line x1="115" y1="155.4" x2="131" y2="155.4" stroke="#22dd22" stroke-width="0.9"/>
<rect x="121.40" y="153.80" width="3.2" height="3.2" fill="#22dd22"/>
<text x="133" y="157.70000000000002" font-size="6.75" fill="#333" font-family="Liberation Sans, sans-serif">Anti-VSV (Dual Virus)</text>
<line x1="60" y1="163.6" x2="63.3" y2="163.6" stroke="#2a2aff" stroke-width="0.9"/>
<line x1="66" y1="163.6" x2="72.4" y2="163.6" stroke="#2a2aff" stroke-width="0.9"/>
<path d="M68.00 161.60 L69.90 165.00 L66.10 165.00 Z" fill="#2a2aff"/>
<text x="77.2" y="165.9" font-size="6.75" fill="#333" font-family="Liberation Sans, sans-serif">Anti-MARV</text>
<line x1="115" y1="163.6" x2="131" y2="163.6" stroke="#2a2aff" stroke-width="0.9"/>
<path d="M123.00 161.60 L124.90 165.00 L121.10 165.00 Z" fill="#2a2aff"/>
<text x="133" y="165.9" font-size="6.75" fill="#333" font-family="Liberation Sans, sans-serif">Anti-MARV (Dual Virus)</text>
<line x1="60" y1="171.9" x2="63.3" y2="171.9" stroke="#ff2a35" stroke-width="0.9"/>
<line x1="66" y1="171.9" x2="72.4" y2="171.9" stroke="#ff2a35" stroke-width="0.9"/>
<circle cx="68.00" cy="171.90" r="1.5" fill="#ff2a35"/>
<text x="77.2" y="174.20000000000002" font-size="6.75" fill="#333" font-family="Liberation Sans, sans-serif">Anti-EBOV</text>
<line x1="115" y1="171.9" x2="131" y2="171.9" stroke="#ff2a35" stroke-width="0.9"/>
<circle cx="123.00" cy="171.90" r="1.5" fill="#ff2a35"/>
<text x="133" y="174.20000000000002" font-size="6.75" fill="#333" font-family="Liberation Sans, sans-serif">Anti-EBOV (Dual Virus)</text>
<rect x="80.2" y="183.3" width="83.7" height="68.6" fill="#fff" stroke="#555" stroke-width="0.8"/>
<line x1="78.9" y1="250.65" x2="80.2" y2="250.65" stroke="#555" stroke-width="0.6"/>
<line x1="163.9" y1="250.65" x2="162.6" y2="250.65" stroke="#555" stroke-width="0.6"/>
<line x1="78.0" y1="241.00" x2="80.2" y2="241.00" stroke="#555" stroke-width="0.6"/>
<line x1="163.9" y1="241.00" x2="161.70000000000002" y2="241.00" stroke="#555" stroke-width="0.6"/>
<text x="77.6" y="242.80" font-size="5" text-anchor="end" fill="#333" font-family="Liberation Sans, sans-serif">0</text>
<line x1="78.9" y1="231.35" x2="80.2" y2="231.35" stroke="#555" stroke-width="0.6"/>
<line x1="163.9" y1="231.35" x2="162.6" y2="231.35" stroke="#555" stroke-width="0.6"/>
<line x1="78.0" y1="221.70" x2="80.2" y2="221.70" stroke="#555" stroke-width="0.6"/>
<line x1="163.9" y1="221.70" x2="161.70000000000002" y2="221.70" stroke="#555" stroke-width="0.6"/>
<text x="77.6" y="223.50" font-size="5" text-anchor="end" fill="#333" font-family="Liberation Sans, sans-serif">100</text>
<line x1="78.9" y1="212.05" x2="80.2" y2="212.05" stroke="#555" stroke-width="0.6"/>
<line x1="163.9" y1="212.05" x2="162.6" y2="212.05" stroke="#555" stroke-width="0.6"/>
<line x1="78.0" y1="202.40" x2="80.2" y2="202.40" stroke="#555" stroke-width="0.6"/>
<line x1="163.9" y1="202.40" x2="161.70000000000002" y2="202.40" stroke="#555" stroke-width="0.6"/>
<text x="77.6" y="204.20" font-size="5" text-anchor="end" fill="#333" font-family="Liberation Sans, sans-serif">200</text>
<line x1="78.9" y1="192.75" x2="80.2" y2="192.75" stroke="#555" stroke-width="0.6"/>
<line x1="163.9" y1="192.75" x2="162.6" y2="192.75" stroke="#555" stroke-width="0.6"/>
<line x1="78.0" y1="183.10" x2="80.2" y2="183.10" stroke="#555" stroke-width="0.6"/>
<line x1="163.9" y1="183.10" x2="161.70000000000002" y2="183.10" stroke="#555" stroke-width="0.6"/>
<text x="77.6" y="184.90" font-size="5" text-anchor="end" fill="#333" font-family="Liberation Sans, sans-serif">300</text>
<line x1="80.40" y1="251.9" x2="80.40" y2="253.20000000000002" stroke="#555" stroke-width="0.6"/>
<line x1="84.59" y1="251.9" x2="84.59" y2="253.20000000000002" stroke="#555" stroke-width="0.6"/>
<line x1="88.29" y1="251.9" x2="88.29" y2="253.20000000000002" stroke="#555" stroke-width="0.6"/>
<line x1="91.60" y1="251.9" x2="91.60" y2="254.1" stroke="#555" stroke-width="0.6"/>
<line x1="91.60" y1="183.3" x2="91.60" y2="185.5" stroke="#555" stroke-width="0.6"/>
<line x1="113.36" y1="251.9" x2="113.36" y2="253.20000000000002" stroke="#555" stroke-width="0.6"/>
<line x1="113.36" y1="183.3" x2="113.36" y2="184.60000000000002" stroke="#555" stroke-width="0.6"/>
<line x1="126.10" y1="251.9" x2="126.10" y2="253.20000000000002" stroke="#555" stroke-width="0.6"/>
<line x1="126.10" y1="183.3" x2="126.10" y2="184.60000000000002" stroke="#555" stroke-width="0.6"/>
<line x1="135.13" y1="251.9" x2="135.13" y2="253.20000000000002" stroke="#555" stroke-width="0.6"/>
<line x1="135.13" y1="183.3" x2="135.13" y2="184.60000000000002" stroke="#555" stroke-width="0.6"/>
<line x1="142.14" y1="251.9" x2="142.14" y2="253.20000000000002" stroke="#555" stroke-width="0.6"/>
<line x1="142.14" y1="183.3" x2="142.14" y2="184.60000000000002" stroke="#555" stroke-width="0.6"/>
<line x1="147.86" y1="251.9" x2="147.86" y2="253.20000000000002" stroke="#555" stroke-width="0.6"/>
<line x1="147.86" y1="183.3" x2="147.86" y2="184.60000000000002" stroke="#555" stroke-width="0.6"/>
<line x1="152.70" y1="251.9" x2="152.70" y2="253.20000000000002" stroke="#555" stroke-width="0.6"/>
<line x1="152.70" y1="183.3" x2="152.70" y2="184.60000000000002" stroke="#555" stroke-width="0.6"/>
<line x1="156.89" y1="251.9" x2="156.89" y2="253.20000000000002" stroke="#555" stroke-width="0.6"/>
<line x1="156.89" y1="183.3" x2="156.89" y2="184.60000000000002" stroke="#555" stroke-width="0.6"/>
<line x1="160.59" y1="251.9" x2="160.59" y2="253.20000000000002" stroke="#555" stroke-width="0.6"/>
<line x1="160.59" y1="183.3" x2="160.59" y2="184.60000000000002" stroke="#555" stroke-width="0.6"/>
<line x1="163.90" y1="251.9" x2="163.90" y2="254.1" stroke="#555" stroke-width="0.6"/>
<line x1="163.90" y1="183.3" x2="163.90" y2="185.5" stroke="#555" stroke-width="0.6"/>
<text x="91.6" y="259" font-size="5" text-anchor="middle" fill="#333" font-family="Liberation Sans, sans-serif">10<tspan dy="-2" font-size="3.3">3</tspan></text>
<text x="163.9" y="259" font-size="5" text-anchor="middle" fill="#333" font-family="Liberation Sans, sans-serif">10<tspan dy="-2" font-size="3.3">4</tspan></text>
<text x="122.3" y="267.5" font-size="5.35" text-anchor="middle" fill="#333" font-family="Liberation Sans, sans-serif">Virus Concentration (pfu/mL)</text>
<text transform="translate(66.2 221) rotate(-90)" font-size="5.35" text-anchor="middle" fill="#333" font-family="Liberation Sans, sans-serif">Average Virus Counts</text>
<clipPath id="ins"><rect x="80.60000000000001" y="183.70000000000002" width="82.9" height="67.8"/></clipPath>
<g clip-path="url(#ins)">
<line x1="80.2" y1="229.42" x2="163.9" y2="229.42" stroke="#333" stroke-width="0.6" stroke-dasharray="0.8 1"/>
<polyline points="80.2,236.18 91.60,236.18 142.14,188.31 150.14,177.31" fill="none" stroke="#ff5555" stroke-width="0.8"/>
<polyline points="80.2,230.96 91.60,230.38 142.14,205.10 152.14,177.31" fill="none" stroke="#ff5555" stroke-width="0.7" stroke-dasharray="1.2 1"/>
<line x1="142.14" y1="223.63" x2="142.14" y2="177.31" stroke="#ff8888" stroke-width="0.5"/>
<line x1="91.60" y1="236.18" x2="91.60" y2="229.42" stroke="#ff8888" stroke-width="0.5"/>
<circle cx="91.60" cy="236.18" r="0.9" fill="#ff5555"/>
<circle cx="91.60" cy="230.38" r="0.9" fill="#ff5555"/>
<circle cx="142.14" cy="188.31" r="0.9" fill="#ff5555"/>
<circle cx="142.14" cy="205.10" r="0.9" fill="#ff5555"/>
<polyline points="80.2,241.00 91.60,241.00 142.14,241.19 163.9,241.00" fill="none" stroke="#5555ff" stroke-width="0.8" stroke-dasharray="0.9 1.1"/>
<polyline points="80.2,239.65 91.60,239.65 142.14,239.46 163.9,238.88" fill="none" stroke="#55dd55" stroke-width="0.8" stroke-dasharray="0.9 1.1"/>
<polyline points="80.2,245.82 91.60,245.82 142.14,243.12 163.9,243.32" fill="none" stroke="#66e066" stroke-width="1.2"/>
<line x1="91.60" y1="241.97" x2="91.60" y2="250.65" stroke="#66e066" stroke-width="0.6"/>
<line x1="142.14" y1="239.07" x2="142.14" y2="243.90" stroke="#9999ff" stroke-width="0.5"/>
<rect x="90.70" y="240.10" width="1.8" height="1.8" fill="#4444ff"/>
<rect x="141.24" y="240.29" width="1.8" height="1.8" fill="#4444ff"/>
</g>
<text x="280.6" y="146.8" font-size="13.2" letter-spacing="0.4" font-family="Liberation Sans, sans-serif">c)</text>
<rect x="329.9" y="147.2" width="214.5" height="172.8" fill="none" stroke="#444" stroke-width="1.6" fill="none"/>
<line x1="326.9" y1="314.90" x2="329.9" y2="314.90" stroke="#333" stroke-width="1"/>
<text x="323.6" y="318.00" font-size="8.7" class="hv" text-anchor="end" fill="#222" font-family="Liberation Sans, sans-serif">0</text>
<line x1="328.09999999999997" y1="290.88" x2="329.9" y2="290.88" stroke="#333" stroke-width="1"/>
<line x1="326.9" y1="266.86" x2="329.9" y2="266.86" stroke="#333" stroke-width="1"/>
<text x="323.6" y="269.96" font-size="8.7" class="hv" text-anchor="end" fill="#222" font-family="Liberation Sans, sans-serif">500</text>
<line x1="328.09999999999997" y1="242.85" x2="329.9" y2="242.85" stroke="#333" stroke-width="1"/>
<line x1="326.9" y1="218.83" x2="329.9" y2="218.83" stroke="#333" stroke-width="1"/>
<text x="323.6" y="221.93" font-size="8.7" class="hv" text-anchor="end" fill="#222" font-family="Liberation Sans, sans-serif">1,000</text>
<line x1="328.09999999999997" y1="194.81" x2="329.9" y2="194.81" stroke="#333" stroke-width="1"/>
<line x1="326.9" y1="170.79" x2="329.9" y2="170.79" stroke="#333" stroke-width="1"/>
<text x="323.6" y="173.89" font-size="8.7" class="hv" text-anchor="end" fill="#222" font-family="Liberation Sans, sans-serif">1,500</text>
<line x1="328.09999999999997" y1="146.78" x2="329.9" y2="146.78" stroke="#333" stroke-width="1"/>
<line x1="335.90" y1="320" x2="335.90" y2="323" stroke="#333" stroke-width="1"/>
<text x="335.90" y="333.2" font-size="8.7" class="hv" text-anchor="middle" fill="#222" font-family="Liberation Sans, sans-serif">0</text>
<line x1="365.70" y1="320" x2="365.70" y2="321.8" stroke="#333" stroke-width="1"/>
<line x1="395.50" y1="320" x2="395.50" y2="323" stroke="#333" stroke-width="1"/>
<text x="395.50" y="333.2" font-size="8.7" class="hv" text-anchor="middle" fill="#222" font-family="Liberation Sans, sans-serif">500</text>
<line x1="425.30" y1="320" x2="425.30" y2="321.8" stroke="#333" stroke-width="1"/>
<line x1="455.10" y1="320" x2="455.10" y2="323" stroke="#333" stroke-width="1"/>
<text x="455.10" y="333.2" font-size="8.7" class="hv" text-anchor="middle" fill="#222" font-family="Liberation Sans, sans-serif">1,000</text>
<line x1="484.90" y1="320" x2="484.90" y2="321.8" stroke="#333" stroke-width="1"/>
<line x1="514.70" y1="320" x2="514.70" y2="323" stroke="#333" stroke-width="1"/>
<text x="514.70" y="333.2" font-size="8.7" class="hv" text-anchor="middle" fill="#222" font-family="Liberation Sans, sans-serif">1,500</text>
<line x1="544.50" y1="320" x2="544.50" y2="321.8" stroke="#333" stroke-width="1"/>
<text x="437" y="349.5" font-size="10.5" class="hv" text-anchor="middle" fill="#222" font-family="Liberation Sans, sans-serif">Average EBOV Counts (Single Virus)</text>
<text transform="translate(294.4 240.3) rotate(-90)" font-size="10.65" class="hv" text-anchor="middle" fill="#222" font-family="Liberation Sans, sans-serif">Average EBOV Counts (Dual Virus)</text>
<line x1="339.3" y1="308.8" x2="533.8" y2="176.5" stroke="#333" stroke-width="0.9"/>
<circle cx="339.48" cy="313.94" r="2.4" fill="#e00000"/>
<circle cx="341.86" cy="312.98" r="2.4" fill="#e00000"/>
<circle cx="358.31" cy="289.15" r="2.4" fill="#e00000"/>
<circle cx="457.48" cy="215.95" r="2.4" fill="#e00000"/>
<circle cx="532.94" cy="184.53" r="2.4" fill="#e00000"/>
<text x="502" y="213.7" font-size="8.4" class="hv" fill="#222" font-family="Liberation Sans, sans-serif">R<tspan dy="-3" font-size="5">2</tspan><tspan dy="3">=0.97</tspan></text>
<rect x="331.6" y="149.1" width="144.2" height="15.4" fill="#fff" stroke="#bbb" stroke-width="0.7"/>
<circle cx="346.9" cy="153.9" r="2.2" fill="#e00000"/>
<line x1="340.4" y1="161" x2="354.2" y2="161" stroke="#666" stroke-width="1.3"/>
<text x="355" y="155.9" font-size="6.05" fill="#333" font-family="Liberation Sans, sans-serif">Anti-EBOV (Single vs. Dual Virus Samples)</text>
<text x="355" y="163.2" font-size="6.05" fill="#333" font-family="Liberation Sans, sans-serif">Linear Fit</text>
</svg>
</body></html>
